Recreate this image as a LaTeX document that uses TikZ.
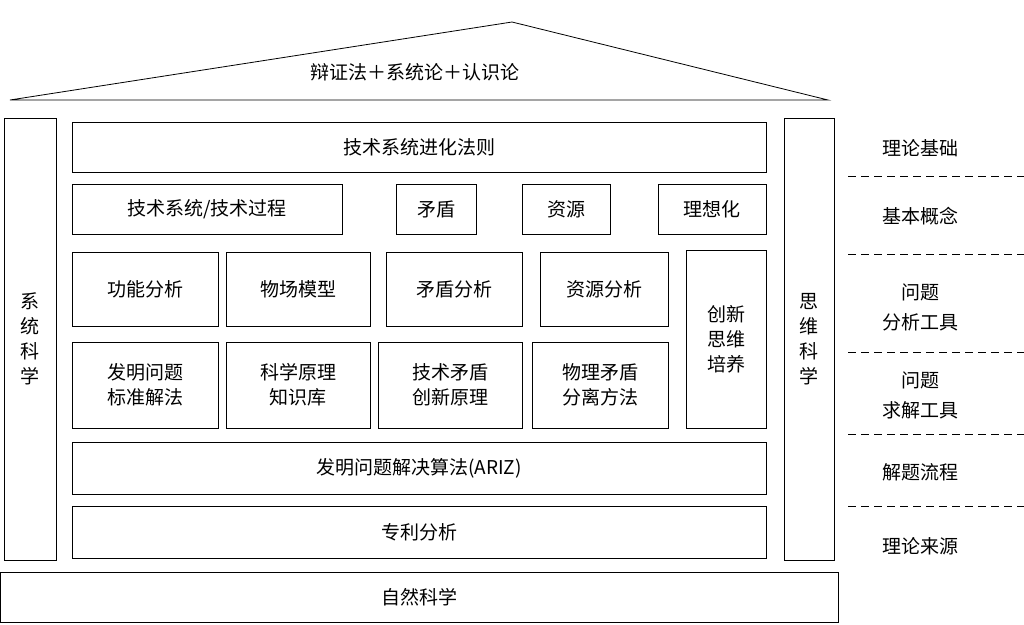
\documentclass[tikz,border=0pt]{standalone}
\usepackage{fontspec}
\setmainfont{Noto Sans CJK SC}
\usetikzlibrary{calc}
\tikzset{
  blk/.style={draw,thick,inner sep=0pt,align=center,font=\fontsize{19}{25}\selectfont},
  lbl/.style={align=center,font=\fontsize{19}{30}\selectfont},
  sep/.style={thick,dash pattern=on 8pt off 5pt}
}
% box from corners (x1,y1) to (x2,y2)
\newcommand{\blk}[6]{\node[blk,minimum width=#4pt-#2pt,minimum height=#5pt-#3pt] (#1) at ({(#2+#4)/2},{(#3+#5)/2}) {#6};}
\begin{document}
\begin{tikzpicture}[x=1pt,y=-1pt]
		\useasboundingbox (0,0) rectangle (1024,624);
		\draw[thick] (10,100) -- (512,22) -- (828,100) -- cycle;
		\node[lbl] (roof) at (415,72) {辩证法＋系统论＋认识论};
		\blk{sys}{4}{118}{56}{560}{系\\统\\科\\学}
		\blk{think}{784}{118}{834}{560}{思\\维\\科\\学}
		\blk{law}{72}{122}{766}{172}{技术系统进化法则}
		\blk{tech}{72}{184}{342}{234}{技术系统/技术过程}
		\blk{contr}{396}{184}{476}{234}{矛盾}
		\blk{res}{522}{184}{610}{234}{资源}
		\blk{ideal}{658}{184}{766}{234}{理想化}
		\blk{func}{72}{252}{218}{326}{功能分析}
		\blk{field}{226}{252}{370}{326}{物场模型}
		\blk{contra}{386}{252}{522}{326}{矛盾分析}
		\blk{resa}{540}{252}{668}{326}{资源分析}
		\blk{innov}{686}{250}{766}{428}{创新\\思维\\培养}
		\blk{std}{72}{342}{218}{428}{发明问题\\标准解法}
		\blk{know}{226}{342}{370}{428}{科学原理\\知识库}
		\blk{princ}{378}{342}{522}{428}{技术矛盾\\创新原理}
		\blk{phys}{532}{342}{668}{428}{物理矛盾\\分离方法}
		\blk{ariz}{72}{442}{766}{494}{发明问题解决算法(ARIZ)}
		\blk{patent}{72}{506}{766}{558}{专利分析}
		\blk{nature}{0}{572}{838}{622}{自然科学}
		% right-hand levels
		\node[lbl] (l1) at (920,148) {理论基础};
		\node[lbl] (l2) at (920,216) {基本概念};
		\node[lbl] (l3) at (920,307) {问题\\分析工具};
		\node[lbl] (l4) at (920,395) {问题\\求解工具};
		\node[lbl] (l5) at (920,472) {解题流程};
		\node[lbl] (l6) at (920,546) {理论来源};
		\foreach \y in {176,254,352,434,506}
			\draw[sep] (848,\y) -- (1024,\y);
\end{tikzpicture}
\end{document}
